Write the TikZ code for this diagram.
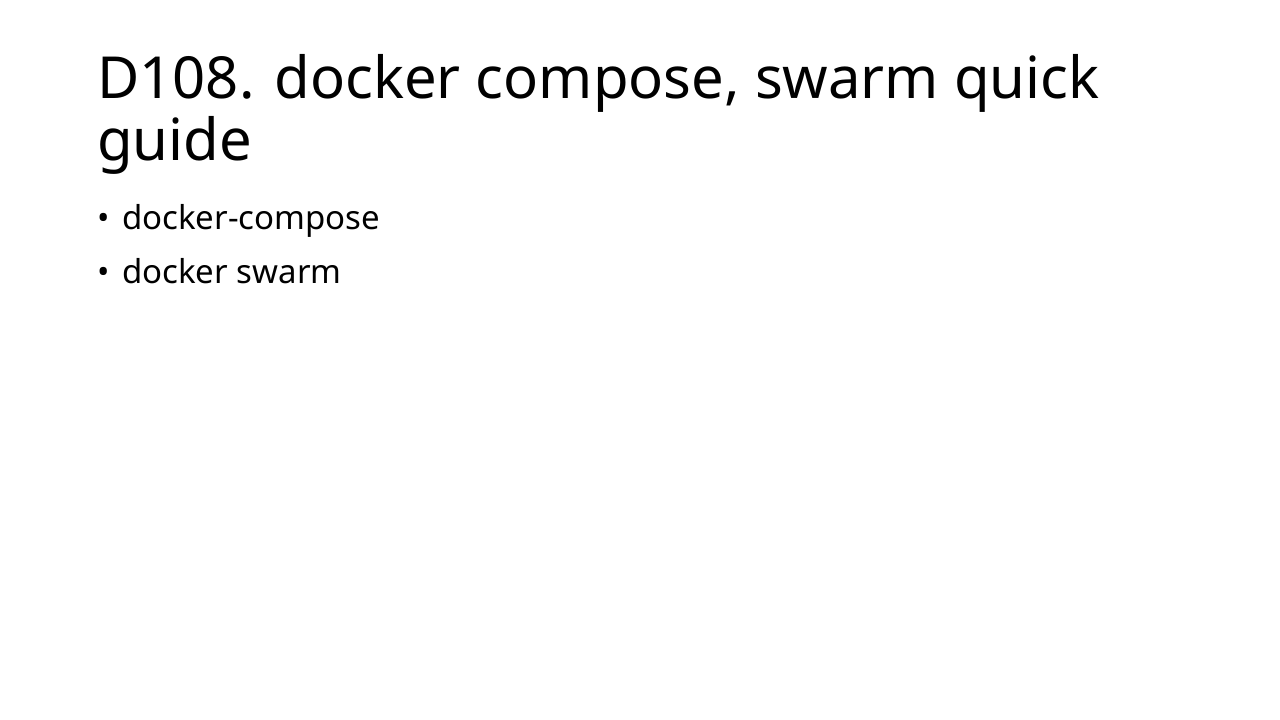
\documentclass[tikz,border=0pt]{standalone}
\usepackage{fontspec}
\setmainfont{Noto Sans}
\begin{document}
\begin{tikzpicture}[x=1pt,y=-1pt,
  title/.style={anchor=base west,inner sep=0pt,font=\fontsize{58}{62}\selectfont\bfseries},
  item/.style={anchor=base west,inner sep=0pt,font=\fontsize{33}{40}\selectfont\bfseries}]
\useasboundingbox[fill=white] (0,0) rectangle (1280,720);
\node[title] (t1) at (97,98) {D108. docker compose, swarm quick};
\node[title] (t2) at (97,160) {guide};
\node[item] (b1) at (97,229) {\textbullet};
\node[item] (i1) at (122,229) {docker-compose};
\node[item] (b2) at (97,283) {\textbullet};
\node[item] (i2) at (122,283) {docker swarm};
\end{tikzpicture}
\end{document}
